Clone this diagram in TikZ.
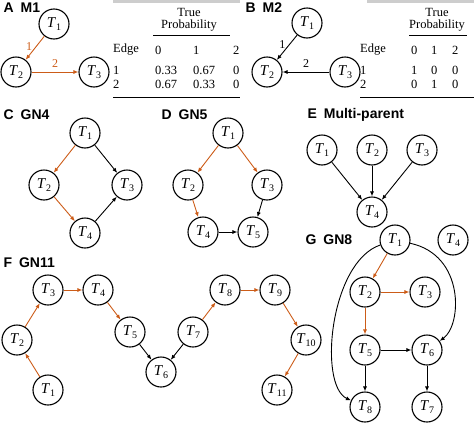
\documentclass[tikz,border=0pt]{standalone}
\usepackage{fontspec}
\setmainfont{Liberation Serif}
\newfontfamily\panelfont{Liberation Sans}
\usepackage{tikz}
\usetikzlibrary{arrows.meta}
\definecolor{edgeorange}{RGB}{204,92,24}
\definecolor{rulegray}{RGB}{205,205,205}
\newcommand{\tv}[1]{\textit{T}\kern0.2pt\raisebox{-0.4ex}{\fontsize{10}{10}\selectfont #1}}

\begin{document}
\begin{tikzpicture}[x=1pt,y=-1pt,
  tnode/.style={circle,draw,line width=1.1pt,minimum size=30pt,inner sep=0pt,font=\fontsize{15}{16}\selectfont},
  bedge/.style={-{Latex[length=5pt,width=4pt]},line width=0.9pt},
  oedge/.style={bedge,edgeorange},
  panel/.style={anchor=west,font=\panelfont\bfseries\fontsize{14}{16}\selectfont},
  tab/.style={anchor=west,font=\fontsize{12.5}{14}\selectfont,inner sep=0pt}]
\useasboundingbox (0,0) rectangle (474,426);

% A  M1
\node[panel] (labA) at (0,8) {A\hspace{7pt}M1};
\node[tnode] (a1) at (54,24) {\tv{1}};
\node[tnode] (a2) at (16,72) {\tv{2}};
\node[tnode] (a3) at (94,72) {\tv{3}};
\draw[oedge] (a1) -- node[pos=0.45,left,edgeorange,font=\fontsize{12}{12}\selectfont] (e1a) {1} (a2);
\draw[oedge] (a2) -- node[above=1pt,edgeorange,font=\fontsize{12}{12}\selectfont] (e2a) {2} (a3);
\draw[rulegray,line width=3pt] (113,1) -- (240,1);
\node[tab,anchor=center] (trueA) at (189,12) {True};
\node[tab,anchor=center] (probA) at (189,26) {Probability};
\draw[line width=0.6pt] (153,35) -- (230,35);
\node[tab] (edgeA) at (113,50) {Edge};
\foreach \v [count=\c] in {155,193,233}
   \node[tab] (hA\c) at (\v,50) {\the\numexpr\c-1\relax};
\foreach \r/\y/\p/\q/\s in {1/70/0.33/0.67/0,2/84/0.67/0.33/0}{
   \node[tab] (rA\r) at (113,\y) {\r};
   \node[tab] (pA\r) at (155,\y) {\p};
   \node[tab] (qA\r) at (193,\y) {\q};
   \node[tab] (sA\r) at (233,\y) {\s};
}
\draw[line width=1pt] (113,97) -- (240,97);

% B  M2
\node[panel] (labB) at (242,8) {B\hspace{7pt}M2};
\node[tnode] (b1) at (307,23) {\tv{1}};
\node[tnode] (b2) at (267,72) {\tv{2}};
\node[tnode] (b3) at (345,72) {\tv{3}};
\draw[bedge] (b1) -- node[pos=0.4,left,font=\fontsize{12}{12}\selectfont] (e1b) {1} (b2);
\draw[bedge] (b3) -- node[above=1pt,font=\fontsize{12}{12}\selectfont] (e2b) {2} (b2);
\draw[rulegray,line width=3pt] (367,1) -- (474,1);
\node[tab,anchor=center] (trueB) at (437,12) {True};
\node[tab,anchor=center] (probB) at (437,26) {Probability};
\draw[line width=0.6pt] (409,35) -- (467,35);
\node[tab] (edgeB) at (360,50) {Edge};
\foreach \v [count=\c] in {411,431,452}
   \node[tab] (hB\c) at (\v,50) {\the\numexpr\c-1\relax};
\foreach \r/\y/\p/\q/\s in {1/70/1/0/0,2/84/0/1/0}{
   \node[tab] (rB\r) at (360,\y) {\r};
   \node[tab] (pB\r) at (411,\y) {\p};
   \node[tab] (qB\r) at (431,\y) {\q};
   \node[tab] (sB\r) at (452,\y) {\s};
}
\draw[line width=1pt] (360,97) -- (474,97);

% C  GN4
\node[panel] (labC) at (0,115) {C\hspace{7pt}GN4};
\foreach \n/\x/\y in {1/85/133,2/44/185,3/127/185,4/85/233}
   \node[tnode] (c\n) at (\x,\y) {\tv{\n}};
\foreach \a/\b in {1/2,2/4} \draw[oedge] (c\a) -- (c\b);
\foreach \a/\b in {1/3,4/3} \draw[bedge] (c\a) -- (c\b);

% D  GN5
\node[panel] (labD) at (158,115) {D\hspace{7pt}GN5};
\foreach \n/\x/\y in {1/228/133,2/188/185,3/267/185,4/203/232,5/253/232}
   \node[tnode] (d\n) at (\x,\y) {\tv{\n}};
\foreach \a/\b in {1/2,1/3,2/4} \draw[oedge] (d\a) -- (d\b);
\foreach \a/\b in {3/5,4/5} \draw[bedge] (d\a) -- (d\b);

% E  Multi-parent
\node[panel] (labE) at (304,115) {E\hspace{7pt}Multi-parent};
\foreach \n/\x/\y in {1/322/150,2/372/150,3/422/150,4/372/212}
   \node[tnode] (e\n) at (\x,\y) {\tv{\n}};
\foreach \a in {1,2,3} \draw[bedge] (e\a) -- (e4);

% F  GN11
\node[panel] (labF) at (0,263) {F\hspace{7pt}GN11};
\foreach \n/\x/\y in {1/48/390,2/17/340,3/48/290,4/98/290,5/130/332,6/161/372,
                      7/193/332,8/225/290,9/275/290,10/306/340,11/277/390}
   \node[tnode] (f\n) at (\x,\y) {\tv{\n}};
\foreach \a/\b in {1/2,2/3,3/4,4/5,7/8,8/9,9/10,10/11} \draw[oedge] (f\a) -- (f\b);
\foreach \a/\b in {5/6,7/6} \draw[bedge] (f\a) -- (f\b);

% G  GN8
\node[panel] (labG) at (302,240) {G\hspace{7pt}GN8};
\foreach \n/\x/\y in {1/395/240,4/453/240,2/365/292,3/425/292,5/365/350,6/427/350,8/365/407,7/427/407}
   \node[tnode] (g\n) at (\x,\y) {\tv{\n}};
\foreach \a/\b in {1/2,2/3,2/5} \draw[oedge] (g\a) -- (g\b);
\foreach \a/\b in {5/6,5/8,6/7} \draw[bedge] (g\a) -- (g\b);
\draw[bedge] (g1) .. controls (330,262) and (318,385) .. (g8);
\draw[bedge] (g1) .. controls (465,255) and (462,325) .. (g6);
\end{tikzpicture}
\end{document}
